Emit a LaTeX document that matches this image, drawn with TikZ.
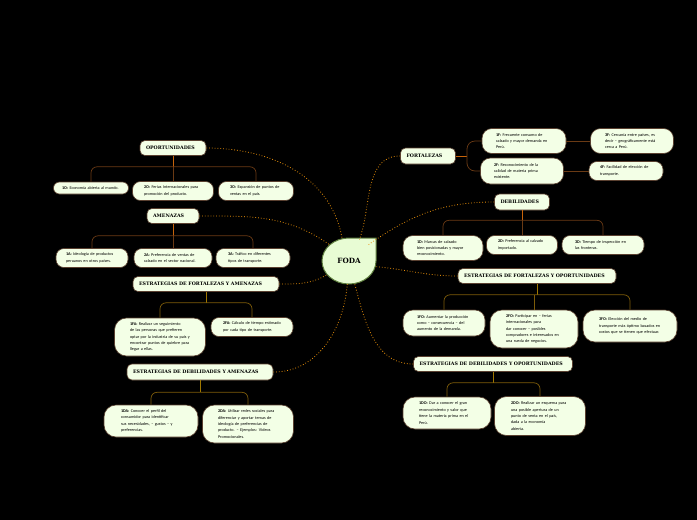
\documentclass[tikz,border=0pt]{standalone}
\usepackage{fontspec}
\usetikzlibrary{positioning,shapes.geometric}
\newfontfamily\headfont{DejaVu Serif}
\newfontfamily\leaffont{Carlito}
\hyphenpenalty=10000
\exhyphenpenalty=10000
\definecolor{nodefill}{HTML}{F3FFE6}
\definecolor{nodeline}{HTML}{5A4030}
\definecolor{centerfill}{HTML}{E8FCD4}
\definecolor{centerline}{HTML}{5E7E3E}
\definecolor{dotorange}{HTML}{E8900A}
\definecolor{stemorange}{HTML}{C8640A}
\definecolor{stemgold}{HTML}{A07800}
\definecolor{forkbrown}{HTML}{6A3A14}
\definecolor{forkgold}{HTML}{7D5C0A}
\tikzset{
  heading/.style={draw=nodeline, fill=nodefill, rounded corners=5pt, line width=0.6pt,
    font=\headfont\bfseries\fontsize{4.75}{5}\selectfont, align=left,
    inner xsep=6pt, inner ysep=0pt, minimum height=15pt},
  leaf/.style={draw=nodeline, fill=nodefill, rounded corners=8pt, line width=0.6pt,
    font=\leaffont\fontsize{4.2}{6.4}\selectfont, align=left, inner sep=2pt},
  link/.style={draw=dotorange, dotted, line width=0.8pt},
  stem/.style={draw=stemorange, line width=0.7pt},
  stemgd/.style={draw=stemgold, line width=0.7pt},
  fork/.style={draw=forkbrown, line width=0.7pt, rounded corners=6pt},
  forkgd/.style={draw=forkgold, line width=0.7pt, rounded corners=6pt},
}

\begin{document}
\begin{tikzpicture}[x=1pt,y=1pt]

  % ---- Background ----------------------------------------------
  \fill[black] (0,0) rectangle (697,-520);

  % ---- Centre --------------------------------------------------
  \filldraw[fill=centerfill, draw=centerline, line width=1pt]
    (376,-261) arc[start angle=0, end angle=-270, x radius=27, y radius=23]
    -- (376,-238) -- cycle;
  \node[ellipse, minimum width=54pt, minimum height=46pt, inner sep=0pt,
    font=\headfont\bfseries\fontsize{7.2}{8}\selectfont] (foda) at (349,-261) {FODA};

  % ---- Oportunidades -------------------------------------------
  \node[heading, text width=54pt] (opor) at (173,-148) {OPORTUNIDADES};
  \node[leaf, rounded corners=6pt, minimum width=75pt, minimum height=12pt, text width=58pt]
    (o1) at (91,-188) {\textbf{1O:} Economía abierta al mundo.};
  \node[leaf, minimum width=81pt, minimum height=19pt, text width=58pt]
    (o2) at (173,-191) {\textbf{2O:} Ferias Internacionales para promoción del producto.};
  \node[leaf, minimum width=75pt, minimum height=19pt, text width=52pt]
    (o3) at (256,-191) {\textbf{3O:} Expansión de puntos de ventas en el país.};
  \coordinate (oporfork) at ([yshift=-11pt]opor.south);
  \draw[stem] (opor.south) -- (oporfork);
  \draw[fork] (o1.north) |- (oporfork) -| (o3.north);
  \draw[fork] (oporfork) -- (o2.north);

  % ---- Amenazas ------------------------------------------------
  \node[heading, text width=40pt] (amen) at (173,-216) {AMENAZAS};
  \node[leaf, minimum width=72pt, minimum height=19pt, text width=52pt]
    (a1) at (92,-258) {\textbf{1A:} Ideología de productos peruanos en otros países.};
  \node[leaf, minimum width=78pt, minimum height=19pt, text width=58pt]
    (a2) at (173,-258) {\textbf{2A:} Preferencia de ventas de calzado en el sector nacional.};
  \node[leaf, minimum width=74pt, minimum height=19pt, text width=50pt]
    (a3) at (253,-258) {\textbf{3A:} Tráfico en diferentes tipos de transporte.};
  \coordinate (amenfork) at ([yshift=-12pt]amen.south);
  \draw[stem] (amen.south) -- (amenfork);
  \draw[fork] (a1.north) |- (amenfork) -| (a3.north);
  \draw[fork] (amenfork) -- (a2.north);

  % ---- Estrategias FA ------------------------------------------
  \node[heading, text width=134pt] (efa) at (206,-284) {ESTRATEGIAS DE FORTALEZAS Y AMENAZAS};
  \node[leaf, rounded corners=12pt, minimum width=91pt, minimum height=38pt, text width=60pt]
    (fa1) at (160,-337) {\textbf{1FA:} Realizar un seguimiento de las personas que prefieren
      optar por la industria de su país y encontrar puntos de quiebre para llegar a ellas.};
  \node[leaf, minimum width=82pt, minimum height=19pt, text width=58pt]
    (fa2) at (252,-327) {\textbf{2FA:} Cálculo de tiempo estimado por cada tipo de transporte.};
  \coordinate (efafork) at ([yshift=-11pt]efa.south);
  \draw[stemgd] (efa.south) -- (efafork);
  \draw[forkgd] (fa1.north) |- (efafork) -| (fa2.north);

  % ---- Estrategias DA ------------------------------------------
  \node[heading, text width=134pt, minimum height=16pt] (eda) at (200,-372) {ESTRATEGIAS DE DEBILIDADES Y AMENAZAS};
  \node[leaf, rounded corners=12pt, minimum width=94pt, minimum height=32pt, text width=60pt]
    (da1) at (151,-421) {\textbf{1DA:} Conocer el perfil del consumidor para identificar sus
      necesidades, – gustos – y preferencias.};
  \node[leaf, rounded corners=12pt, minimum width=91pt, minimum height=38pt, text width=60pt]
    (da2) at (248,-424) {\textbf{2DA:} Utilizar redes sociales para diferenciar y aportar temas de
      ideología de preferencias de producto. – Ejemplos: Videos Promocionales.};
  \coordinate (edafork) at ([yshift=-12pt]eda.south);
  \draw[stemgd] (eda.south) -- (edafork);
  \draw[forkgd] (da1.north) |- (edafork) -| (da2.north);

  % ---- Fortalezas ----------------------------------------------
  \node[heading, text width=43pt, minimum height=16pt] (fort) at (428,-156) {FORTALEZAS};
  \node[leaf, rounded corners=10pt, minimum width=84pt, minimum height=25pt, text width=56pt]
    (f1) at (524,-141) {\textbf{1F:} Frecuente consumo de calzado y mayor demanda en Perú.};
  \node[leaf, rounded corners=10pt, minimum width=83pt, minimum height=25pt, text width=54pt]
    (f3) at (632,-141) {\textbf{3F:} Cercanía entre países, es decir – geográficamente está cerca a Perú.};
  \node[leaf, rounded corners=10pt, minimum width=83pt, minimum height=26pt, text width=56pt]
    (f2) at (522,-171) {\textbf{2F:} Reconocimiento de la calidad de materia prima existente.};
  \node[leaf, minimum width=74pt, minimum height=19pt, text width=52pt]
    (f4) at (626,-171) {\textbf{4F:} Facilidad de elección de transporte.};
  \coordinate (fortfork) at (467,-156);
  \draw[stem] (fort.east) -- (fortfork);
  \draw[fork, rounded corners=8pt] (f1.west) -| (fortfork) |- (f2.west);
  \draw[fork] (f1.east) -- (f3.west);
  \draw[fork] (f2.east) -- (f4.west);

  % ---- Debilidades ---------------------------------------------
  \node[heading, text width=43pt, minimum height=16pt] (deb) at (522,-202) {DEBILIDADES};
  \node[leaf, rounded corners=10pt, minimum width=80pt, minimum height=25pt, text width=52pt]
    (d1) at (443,-248) {\textbf{1D:} Marcas de calzado bien posicionadas y mayor reconocimiento.};
  \node[leaf, minimum width=71pt, minimum height=19pt, text width=48pt]
    (d2) at (522,-245) {\textbf{2D:} Preferencia al calzado importado.};
  \node[leaf, minimum width=82pt, minimum height=19pt, text width=56pt]
    (d3) at (603,-245) {\textbf{3D:} Tiempo de inspección en las fronteras.};
  \coordinate (debfork) at ([yshift=-10pt]deb.south);
  \draw[stem] (deb.south) -- (debfork);
  \draw[fork] (d1.north) |- (debfork) -| (d3.north);
  \draw[fork] (debfork) -- (d2.north);

  % ---- Estrategias FO ------------------------------------------
  \node[heading, text width=146pt] (efo) at (537,-276) {ESTRATEGIAS DE FORTALEZAS Y OPORTUNIDADES};
  \node[leaf, rounded corners=10pt, minimum width=82pt, minimum height=26pt, text width=54pt]
    (fo1) at (444,-323) {\textbf{1FO:} Aumentar la producción como – consecuencia – del aumento de la demanda.};
  \node[leaf, rounded corners=12pt, minimum width=88pt, minimum height=38pt, text width=56pt]
    (fo2) at (534,-329) {\textbf{2FO:} Participar en – ferias internacionales para\\ dar conocer – posibles
      compradores e interesados en una rueda de negocios.};
  \node[leaf, rounded corners=12pt, minimum width=94pt, minimum height=32pt, text width=62pt]
    (fo3) at (630,-326) {\textbf{3FO:} Elección del medio de transporte más óptimo basados en costos
      que se tienen que efectuar.};
  \coordinate (efofork) at ([yshift=-11pt]efo.south);
  \draw[stemgd] (efo.south) -- (efofork);
  \draw[forkgd] (fo1.north) |- (efofork) -| (fo3.north);
  \draw[forkgd] (fo2.north |- efofork) -- (fo2.north);

  % ---- Estrategias DO ------------------------------------------
  \node[heading, text width=147pt] (edo) at (493,-364) {ESTRATEGIAS DE DEBILIDADES Y OPORTUNIDADES};
  \node[leaf, rounded corners=12pt, minimum width=88pt, minimum height=32pt, text width=56pt]
    (do1) at (447,-413) {\textbf{1DO:} Dar a conocer el gran reconocimiento y valor que tiene la
      materia prima en el Perú.};
  \node[leaf, rounded corners=12pt, minimum width=91pt, minimum height=39pt, text width=58pt]
    (do2) at (540,-416) {\textbf{2DO:} Realizar un esquema para una posible apertura de un punto
      de venta en el país,\\ dada a la economía\\ abierta.};
  \coordinate (edofork) at ([yshift=-11pt]edo.south);
  \draw[stemgd] (edo.south) -- (edofork);
  \draw[forkgd] (do1.north) |- (edofork) -| (do2.north);

  % ---- Links to the centre -------------------------------------
  \draw[link] (opor.east) to[out=0,in=100] (foda.107);
  \draw[link] (amen.east) to[out=0,in=145] (foda.140);
  \draw[link] (efa.east) to[out=0,in=210] (foda.212);
  \draw[link] (eda.east) to[out=0,in=265] (foda.266);
  \draw[link] (fort.west) to[out=180,in=70] (foda.64);
  \draw[link] (deb.west) to[out=180,in=35] (foda.40);
  \draw[link] (efo.west) to[out=180,in=-5] (foda.-12);
  \draw[link] (edo.west) to[out=180,in=-75] (foda.-76);

\end{tikzpicture}
\end{document}
